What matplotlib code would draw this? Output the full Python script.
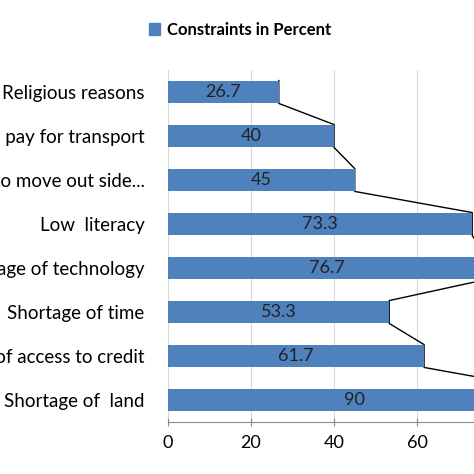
import matplotlib
matplotlib.use("Agg")
import matplotlib.pyplot as plt
from matplotlib.patches import Patch

categories = ["Religious reasons", "Unable to pay for transport", "Permission to move out side...",
              "Low  literacy", "Shortage of technology", "Shortage of time",
              "Lack of access to credit", "Shortage of  land"]
values = [26.7, 40, 45, 73.3, 76.7, 53.3, 61.7, 90]
ticks = [0, 20, 40, 60, 80, 100]

plt.rcParams['font.family'] = ['Lato', 'DejaVu Sans']
fig = plt.figure(figsize=(4.74, 4.74), dpi=100)
ax = fig.add_axes([168/474, 52/474, 415/474, 352/474])
n = len(values)
ys = list(range(n))
h = 0.52
col = '#4F81BD'
ax.barh(ys, values, height=h, color=col, zorder=3)
for y, v in zip(ys, values):
    ax.text(v/2, y, f"{v:g}", ha='center', va='center', fontsize=13, color='#222222', zorder=4)
lx, ly = [], []
for i, v in enumerate(values):
    lx += [v, v]
    ly += [i - h/2, i + h/2]
ax.plot(lx, ly, color='black', lw=1, zorder=2)
ax.set_ylim(n - 0.5, -0.5)
ax.set_xlim(0, 100)
ax.set_xticks(ticks)
ax.set_yticks(ys)
ax.set_yticklabels(categories, fontsize=13.5)
ax.tick_params(axis='y', length=0, pad=17)
ax.tick_params(axis='x', labelsize=13, length=6, color='#888888', direction='inout', pad=6)
ax.grid(axis='x', color='#d9d9d9', lw=0.8, zorder=0)
for s in ['top', 'right', 'left']:
    ax.spines[s].set_visible(False)
ax.spines['bottom'].set_color('#888888')
fig.legend(handles=[Patch(color=col, label='Constraints in Percent')], loc='center',
           bbox_to_anchor=(240/474, 1 - 30/474), frameon=False,
           prop={'weight': 'bold', 'size': 12}, handlelength=0.7, handleheight=0.7, handletextpad=0.4)
fig.savefig('out.png', dpi=100)
